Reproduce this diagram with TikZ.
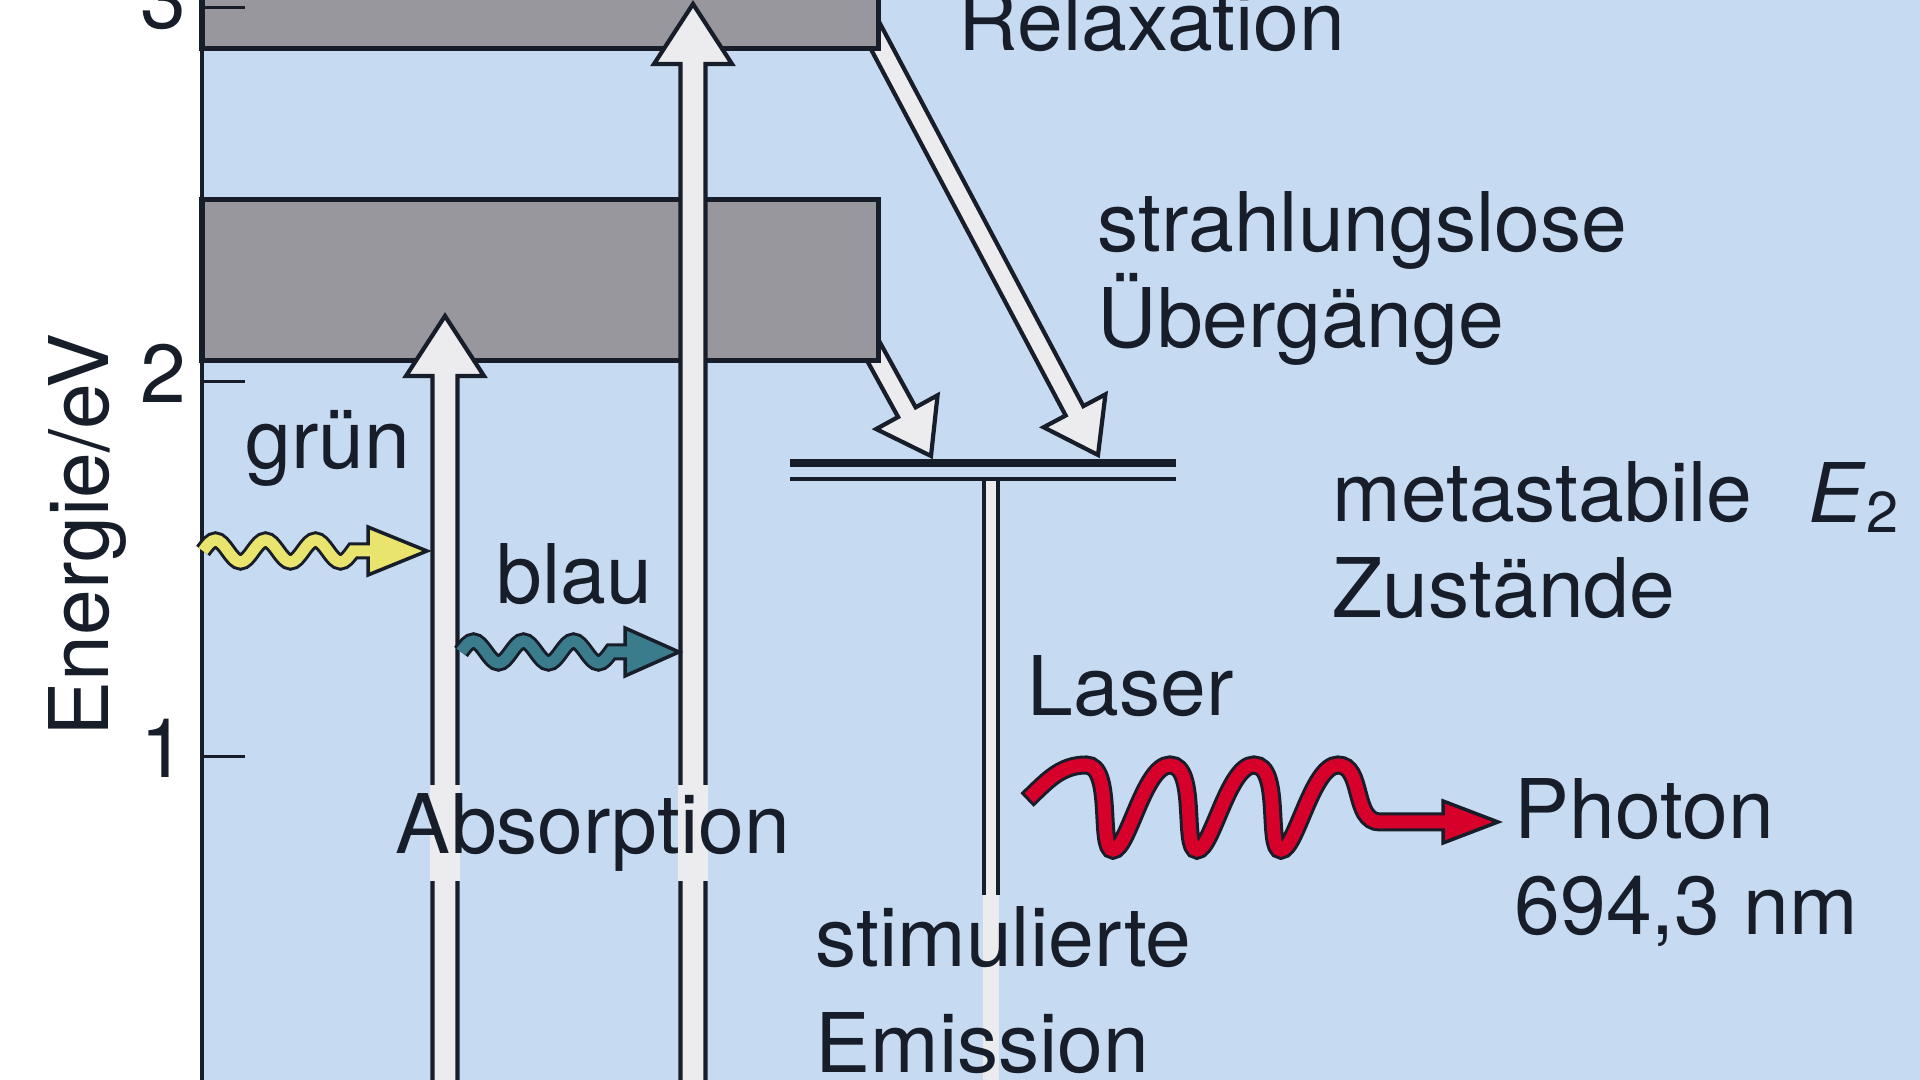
\documentclass[tikz,border=0pt]{standalone}
\usepackage{fontspec}
\setmainfont{TeX Gyre Heros}
\usetikzlibrary{calc,positioning}
\definecolor{bgblue}{RGB}{198,218,241}
\definecolor{bandgray}{RGB}{152,151,157}
\definecolor{inkdark}{RGB}{24,29,42}
\definecolor{arrowfill}{RGB}{236,236,239}
\definecolor{greenwave}{RGB}{233,228,110}
\definecolor{bluewave}{RGB}{58,124,140}
\definecolor{laserred}{RGB}{214,0,42}

\tikzset{
  lbl/.style={inner sep=0pt, text=inkdark, anchor=base west,
    font=\fontsize{23.4}{27.3}\selectfont},
  band/.style={fill=bandgray, draw=inkdark, line width=0.05cm},
  fatbody/.style={fill=arrowfill, draw=inkdark, line width=0.042cm, line join=miter},
  wavehead/.style={draw=inkdark, line width=0.035cm, line join=miter},
}

% fat outlined arrow: tail, tip, half shaft, half head, head length
\newcommand{\fatarrow}[5]{%
  \coordinate (fa-h) at ($(#2)!#5!(#1)$);
  \path[fatbody] ($(#1)!#3!90:(#2)$) -- ($(fa-h)!#3!90:(#2)$)
    -- ($(fa-h)!#4!90:(#2)$) -- (#2) -- ($(fa-h)!#4!-90:(#2)$)
    -- ($(fa-h)!#3!-90:(#2)$) -- ($(#1)!#3!-90:(#2)$) -- cycle;
}

\begin{document}
\begin{tikzpicture}[x=0.01cm, y=-0.01cm]
\useasboundingbox (0,0) rectangle (1920,1080);
\fill[white] (0,0) rectangle (1920,1080);
\clip (0,0) rectangle (1920,1080);
\fill[bgblue] (202,0) rectangle (1920,1080);

% strahlungslose Uebergaenge (behind the bands)
\coordinate (relAtail) at (849,307);
\coordinate (relAtip) at (931,456);
\coordinate (relBtail) at (854,-4);
\coordinate (relBtip) at (1098,455);
\fatarrow{relAtail}{relAtip}{0.1cm}{0.35cm}{0.5cm}
\fatarrow{relBtail}{relBtip}{0.1cm}{0.35cm}{0.5cm}

% energy bands
\draw[band] (202,-60) rectangle (878,49);
\draw[band] (202,200) rectangle (878,361);

% axis
\draw[inkdark, line width=0.04cm] (202,-10) -- (202,1090);
\foreach \ev/\yy in {3/8, 2/382, 1/757} {
  \draw[inkdark, line width=0.03cm] (202,\yy) -- (245,\yy);
  \node[lbl, anchor=base east] (tick\ev) at (187,\yy+21) {\ev};
}
\node[lbl, anchor=base, rotate=90] (yaxis) at (108,535) {Energie/eV};

% metastable level and stimulated emission
\coordinate (metaL) at (790,463);
\coordinate (metaR) at (1176,463);
\draw[inkdark, line width=0.074cm] (metaL) -- (metaR);
\draw[inkdark, line width=0.04cm] ([yshift=-0.16cm]metaL) -- ([yshift=-0.16cm]metaR);
\coordinate (emtop) at (991,481);
\coordinate (emcut) at (991,895);
\coordinate (embot) at (991,1090);
\draw[arrowfill, line width=0.16cm] (emtop) -- (embot);
\draw[inkdark, line width=0.045cm] ([xshift=-0.07cm]emtop) -- ([xshift=-0.07cm]emcut);
\draw[inkdark, line width=0.045cm] ([xshift=0.07cm]emtop) -- ([xshift=0.07cm]emcut);

% absorption
\coordinate (abs1tail) at (445,1100);
\coordinate (abs1tip) at (445,316);
\coordinate (abs2tail) at (693,1100);
\coordinate (abs2tip) at (693,4);
\fatarrow{abs1tail}{abs1tip}{0.125cm}{0.39cm}{0.6cm}
\fatarrow{abs2tail}{abs2tip}{0.125cm}{0.39cm}{0.6cm}
\fill[arrowfill] (430,785) rectangle (460,881);
\fill[arrowfill] (678,785) rectangle (708,881);

% photons gruen / blau
\coordinate (gstart) at (203,551);
\coordinate (gtip) at (427,551);
\draw[inkdark, line width=0.17cm] (gstart)
  \foreach \k in {1,2,3} {sin ++(12.5,-11) cos ++(12.5,11) sin ++(12.5,11) cos ++(12.5,-11)}
  -- ($(gtip)+(-57,0)$);
\path[wavehead, fill=greenwave] ($(gtip)+(-59,-24)$) -- (gtip) -- ($(gtip)+(-59,24)$) -- cycle;
\draw[greenwave, line width=0.11cm] (gstart)
  \foreach \k in {1,2,3} {sin ++(12.5,-11) cos ++(12.5,11) sin ++(12.5,11) cos ++(12.5,-11)}
  -- ($(gtip)+(-47,0)$);

\coordinate (bstart) at (461,652);
\coordinate (btip) at (679,652);
\draw[inkdark, line width=0.17cm] (bstart)
  \foreach \k in {1,2,3} {sin ++(12.5,-11) cos ++(12.5,11) sin ++(12.5,11) cos ++(12.5,-11)}
  -- ($(btip)+(-52,0)$);
\path[wavehead, fill=bluewave] ($(btip)+(-54,-24)$) -- (btip) -- ($(btip)+(-54,24)$) -- cycle;
\draw[bluewave, line width=0.11cm] (bstart)
  \foreach \k in {1,2,3} {sin ++(12.5,-11) cos ++(12.5,11) sin ++(12.5,11) cos ++(12.5,-11)}
  -- ($(btip)+(-43,0)$);

% laser photon
\coordinate (lstart) at (1027,800);
\coordinate (ltip) at (1498,822);
\def\laserpath{(lstart) .. controls (1046,782) and (1060,765) .. (1086,765)
  .. controls (1114,765) and (1098,850) .. (1113,850)
  .. controls (1128,850) and (1144,765) .. (1170,765)
  .. controls (1198,765) and (1182,850) .. (1197,850)
  .. controls (1212,850) and (1228,765) .. (1254,765)
  .. controls (1282,765) and (1266,850) .. (1281,850)
  .. controls (1296,850) and (1312,765) .. (1338,765)
  .. controls (1364,765) and (1352,822) .. (1380,822)}
\draw[inkdark, line width=0.19cm] \laserpath -- ($(ltip)+(-53,0)$);
\path[wavehead, fill=laserred] ($(ltip)+(-55,-21)$) -- (ltip) -- ($(ltip)+(-55,21)$) -- cycle;
\draw[laserred, line width=0.13cm, shorten <=0.03cm] \laserpath -- ($(ltip)+(-42,0)$);

% labels
\node[lbl] (relax) at (958,51) {Relaxation};
\node[lbl, align=left] (nonrad) at (1097,348) {strahlungslose\\Übergänge};
\node[lbl, align=left] (meta) at (1332,618) {metastabile\\Zustände};
\node[lbl] (e2) at (1808,523) {\textit{E}\raisebox{-0.1cm}{\fontsize{16.4}{16}\selectfont 2}};
\node[lbl] (laser) at (1027,716) {Laser};
\node[lbl, align=left] (photon) at (1514,935) {Photon\\694,3 nm};
\node[lbl, align=left] (stim) at (815,1073) {stimulierte\\[0.1cm]Emission};
\node[lbl] (absorb) at (395,854) {Absorption};
\node[lbl] (green) at (245,469) {grün};
\node[lbl] (blue) at (496,604) {blau};
\end{tikzpicture}
\end{document}
